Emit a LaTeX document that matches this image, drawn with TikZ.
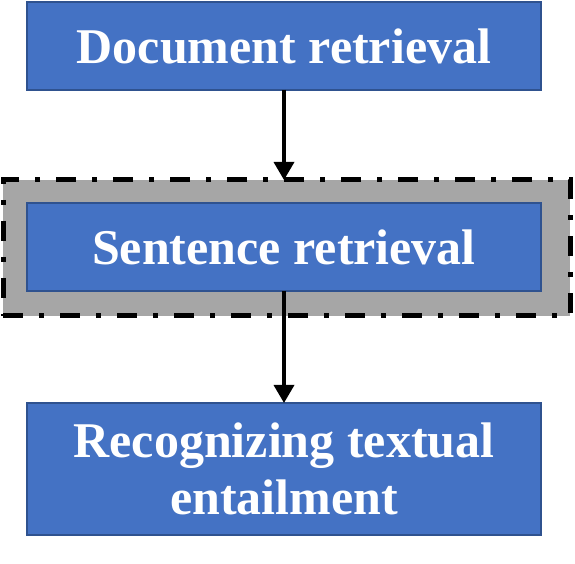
\documentclass[tikz,border=0pt]{standalone}
\usepackage{fontspec}
\setmainfont{Liberation Serif}
\usetikzlibrary{arrows.meta}
\definecolor{boxblue}{HTML}{4472C4}
\definecolor{boxedge}{HTML}{2F528F}
\definecolor{panelgray}{HTML}{A6A6A6}
\tikzset{
  stagebox/.style={draw=boxedge, line width=1.5pt, fill=boxblue, text=white,
    font=\bfseries\fontsize{50}{57}\selectfont, align=center,
    minimum width=514pt, minimum height=88pt, inner sep=0pt, outer sep=0pt},
  panel/.style={draw=black, fill=panelgray, line width=5pt,
    dash pattern=on 20pt off 16pt on 5pt off 16pt,
    minimum width=567pt, minimum height=136pt, inner sep=0pt, outer sep=0pt},
  flow/.style={-{Triangle[width=20pt,length=18pt]}, line width=3.5pt, black}
}
\begin{document}
\begin{tikzpicture}[x=1pt,y=1pt]
\useasboundingbox (0,0) rectangle (575,564);
\node[panel] (panel) at (286.5,316) {};
\node[stagebox] (doc) at (284,518) {Document retrieval};
\node[stagebox] (sent) at (284,317) {Sentence retrieval};
\node[stagebox, minimum height=132pt] (rte) at (284,95) {Recognizing textual\\entailment};
\draw[flow] (doc.south) -- (doc.south |- panel.north);
\draw[flow] (sent.south) -- (rte.north);
\end{tikzpicture}
\end{document}
